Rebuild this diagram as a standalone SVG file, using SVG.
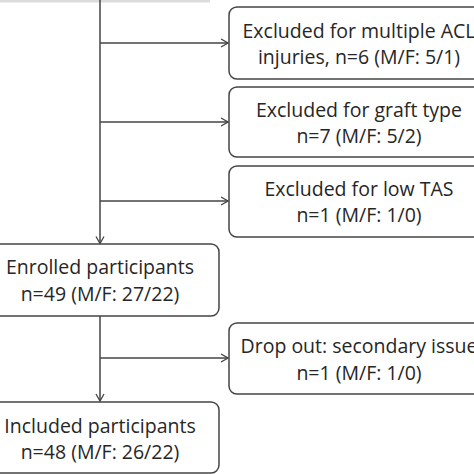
<svg xmlns="http://www.w3.org/2000/svg" width="474" height="474" viewBox="0 0 474 474">
<defs>
<marker id="arr" viewBox="0 0 10 10" refX="9" refY="5" markerWidth="10" markerHeight="10" markerUnits="userSpaceOnUse" orient="auto">
<path d="M2,1 L9,5 L2,9" fill="none" stroke="#444" stroke-width="1.3"/>
</marker>
<style>
.box{fill:#fff;stroke:#444;stroke-width:1.5}
.ln{fill:none;stroke:#444;stroke-width:1.5}
text{font-family:"Open Sans","Liberation Sans",sans-serif;font-size:19.5px;fill:#262626;text-anchor:middle}
</style>
</defs>
<rect x="0" y="0" width="474" height="474" fill="#fff"/>
<rect x="0" y="0" width="210" height="2.5" fill="#dcdcdc"/>
<g id="connectors">
<line class="ln" x1="100" y1="0" x2="100" y2="243"/>
<line class="ln" x1="100" y1="243" x2="100" y2="243.5" marker-end="url(#arr)"/>
<line class="ln" x1="100" y1="43" x2="228" y2="43" marker-end="url(#arr)"/>
<line class="ln" x1="100" y1="122" x2="228" y2="122" marker-end="url(#arr)"/>
<line class="ln" x1="100" y1="201" x2="228" y2="201" marker-end="url(#arr)"/>
<line class="ln" x1="100" y1="316" x2="100" y2="401" marker-end="url(#arr)"/>
<line class="ln" x1="100" y1="358" x2="228" y2="358" marker-end="url(#arr)"/>
</g>
<g id="n1">
<rect class="box" x="229" y="7" width="270" height="72" rx="8"/>
<text x="359" y="38">Excluded for multiple ACL</text>
<text x="359" y="64">injuries, n=6 (M/F: 5/1)</text>
</g>
<g id="n2">
<rect class="box" x="229" y="87" width="270" height="70" rx="8"/>
<text x="359" y="117">Excluded for graft type</text>
<text x="359" y="143">n=7 (M/F: 5/2)</text>
</g>
<g id="n3">
<rect class="box" x="229" y="166" width="270" height="71" rx="8"/>
<text x="359" y="196">Excluded for low TAS</text>
<text x="359" y="222">n=1 (M/F: 1/0)</text>
</g>
<g id="n4">
<rect class="box" x="-30" y="244" width="249" height="72" rx="8"/>
<text x="100" y="274">Enrolled participants</text>
<text x="100" y="301">n=49 (M/F: 27/22)</text>
</g>
<g id="n5">
<rect class="box" x="229" y="323" width="270" height="71" rx="8"/>
<text x="359" y="353">Drop out: secondary issue</text>
<text x="359" y="380">n=1 (M/F: 1/0)</text>
</g>
<g id="n6">
<rect class="box" x="-30" y="402" width="249" height="71" rx="8"/>
<text x="100" y="433">Included participants</text>
<text x="100" y="459">n=48 (M/F: 26/22)</text>
</g>
</svg>
